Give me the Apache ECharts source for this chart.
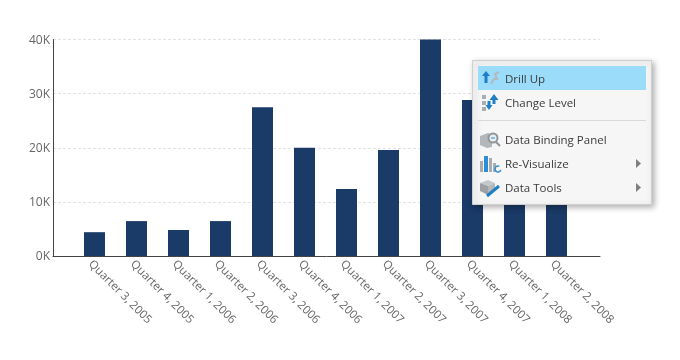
<!DOCTYPE html>
<html>
<head>
<meta charset="utf-8">
<style>html,body{margin:0;padding:0;background:#fff}#c{width:680px;height:360px}</style>
<script src="https://cdn.jsdelivr.net/npm/echarts@6/dist/echarts.min.js"></script>
</head>
<body>
<div id="c"></div>
<script>
var categories = ['Quarter 3, 2005','Quarter 4, 2005','Quarter 1, 2006','Quarter 2, 2006','Quarter 3, 2006','Quarter 4, 2006','Quarter 1, 2007','Quarter 2, 2007','Quarter 3, 2007','Quarter 4, 2007','Quarter 1, 2008','Quarter 2, 2008'];
var values = [4400,6450,4800,6450,27500,20000,12400,19600,40000,28800,22000,15000];
var menuLabels = ['Drill Up','Change Level','Data Binding Panel','Re-Visualize','Data Tools'];

var FONT = '"Open Sans","Noto Sans",sans-serif';
var chart = echarts.init(document.getElementById('c'), null, {renderer:'canvas'});
var blue='#2a8fd6', grey='#a9adb0', dark='#8d9296';
function r(x,y,w,h,c,z){return {type:'rect',shape:{x:x,y:y,width:w,height:h},style:{fill:c},z:z||103};}
function p(pts,c){return {type:'polygon',shape:{points:pts},style:{fill:c},z:103};}
function t(s,y){return {type:'text',x:505,y:y,z:104,style:{text:s,fill:'#3a3a3a',font:'11.5px '+FONT,verticalAlign:'middle'}};}
var graphics = [
  {type:'rect',shape:{x:472.5,y:60.5,width:179,height:144},style:{fill:'#f6f6f6',stroke:'#cfcfcf',lineWidth:1,shadowBlur:6,shadowOffsetX:2,shadowOffsetY:2,shadowColor:'rgba(0,0,0,0.3)'},z:100},
  r(478,66,168,24,'#9bdcfa',101),
  r(478,120,168,1,'#d9d9d9',101),
  // Drill Up
  p([[486,71],[482,76],[484.5,76],[484.5,83],[487.5,83],[487.5,76],[490,76]],'#1f7fc4'),
  {type:'polyline',shape:{points:[[491,84],[494,79],[497,79],[495,74],[499,72]]},style:{stroke:'#b5b9bb',lineWidth:2,fill:null},z:103},
  // Change Level
  r(482,95,4,4,grey),r(482,101,4,4,grey),r(482,107,4,4,grey),
  p([[494,94],[489.5,100],[492.5,100],[492.5,104],[495.5,104],[495.5,100],[498.5,100]],'#1f7fc4'),
  p([[489,110],[485.5,105],[487.5,105],[487.5,101],[490.5,101],[490.5,105],[492.5,105]],'#1f7fc4'),
  // Data Binding Panel
  p([[480,136],[488,133],[492,135],[492,147],[487,148],[480,145]],'#b3b7ba'),
  {type:'circle',shape:{cx:493,cy:138,r:4.5},style:{fill:'#e8eef2',stroke:'#8f9599',lineWidth:2},z:103},
  r(491,137.5,4,1,'#2a8fd6'),
  {type:'line',shape:{x1:496,y1:142,x2:500,y2:146},style:{stroke:'#8f9599',lineWidth:2},z:103},
  // Re-Visualize
  r(480,161,3,11,grey),r(484,156,4,16,blue),r(489,158,3,14,grey),r(493,163,3,9,grey),
  {type:'arc',shape:{cx:498,cy:169,r:3,startAngle:0.3,endAngle:5.2},style:{stroke:'#2a8fd6',lineWidth:1.5,fill:null},z:103},
  // Data Tools
  p([[480,183],[488,180],[495,183],[488,186]],'#c5c8ca'),
  p([[480,183],[488,186],[488,195],[480,191]],'#9da1a4'),
  p([[488,186],[495,183],[495,188],[488,195]],'#b3b7ba'),
  {type:'line',shape:{x1:487,y1:196,x2:499,y2:186},style:{stroke:'#1f7fc4',lineWidth:3},z:103},
  // Submenu arrows
  p([[636,159],[636,168],[641,163.5]],'#7f7f7f'),
  p([[636,183],[636,192],[641,187.5]],'#7f7f7f')
];
menuLabels.forEach(function(s,i){graphics.push(t(s,[79.5,103.5,140.5,164.5,188.5][i]));});

chart.setOption({
  animation:false,
  backgroundColor:'#fff',
  textStyle:{fontFamily:FONT},
  grid:[
    {left:53,top:39.5,width:547,height:216.5,containLabel:false},
    {left:73.5,top:39.5,width:504,height:216.5,containLabel:false}
  ],
  xAxis:[
    {type:'category',gridIndex:0,data:[''],axisTick:{show:false},axisLabel:{show:false},splitLine:{show:false},axisLine:{show:true,lineStyle:{color:'#444',width:1}}},
    {type:'category',gridIndex:1,data:categories,axisTick:{show:false},axisLine:{show:false},splitLine:{show:false},
      axisLabel:{show:true,interval:0,rotate:-45,margin:2,verticalAlign:'top',color:'#666',fontSize:11.5,fontFamily:FONT}}
  ],
  yAxis:[
    {type:'value',gridIndex:0,min:0,max:40000,interval:10000,axisTick:{show:false},
      axisLine:{show:true,lineStyle:{color:'#444',width:1}},
      axisLabel:{margin:3,color:'#666',fontSize:12,fontFamily:FONT,
        formatter:function(v){return '{a|'+(v/1000)+'K}';},
        rich:{a:{color:'#666',fontSize:12,fontFamily:FONT,padding:[2,0,0,0]}}},
      splitLine:{show:true,lineStyle:{color:'#e2e2e2',type:[3,2],width:1}}},
    {type:'value',gridIndex:1,min:0,max:40000,interval:10000,show:false,splitLine:{show:false}}
  ],
  series:[{type:'bar',xAxisIndex:1,yAxisIndex:1,data:values,barWidth:21,itemStyle:{color:'#1a3a67'}}],
  graphic:graphics
});
</script>
</body>
</html>
